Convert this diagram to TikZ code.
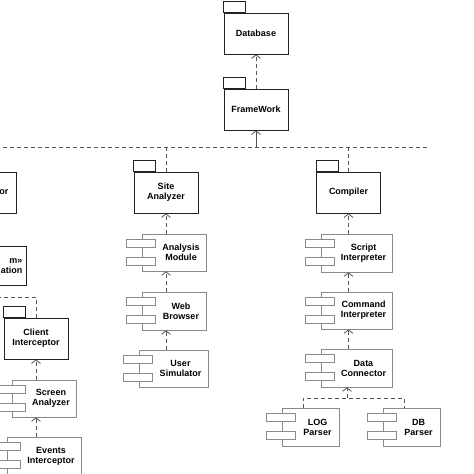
\documentclass[tikz,border=0pt]{standalone}
\usepackage{fontspec}
\setmainfont{Liberation Sans}
\usetikzlibrary{arrows.meta}
\definecolor{pkgcol}{HTML}{222222}
\definecolor{compcol}{HTML}{8A8A8A}
\definecolor{linecol}{HTML}{555555}
\newcommand{\pkgtab}[1]{\draw[pkgline] (#1.north west) rectangle ++(22,-11);}
\newcommand{\compdeco}[1]{%
  \draw[smallbox] ([xshift=-15pt,yshift=-6pt]#1.north west) rectangle ++(29,8);
  \draw[smallbox] ([xshift=-15pt,yshift=-24pt]#1.north west) rectangle ++(29,8);}
\begin{document}
\begin{tikzpicture}[x=1pt,y=-1pt,
  lbl/.style={font=\fontsize{9}{10}\selectfont\bfseries, align=center, inner sep=0pt, text=black},
  pkg/.style={lbl, draw=pkgcol, line width=0.9pt, fill=white, minimum width=64pt, minimum height=41pt},
  pkgline/.style={draw=pkgcol, line width=0.9pt, fill=white},
  comp/.style={draw=compcol, line width=0.7pt, fill=white, inner sep=0pt},
  smallbox/.style={draw=compcol, line width=0.7pt, fill=white},
  dashline/.style={draw=linecol, line width=0.8pt, dash pattern=on 4pt off 3pt},
  dep/.style={dashline, -{Straight Barb[length=3.5pt,width=9pt]}},
  solidarr/.style={draw=linecol, line width=0.8pt, -{Straight Barb[length=3.5pt,width=9pt]}}
]
\useasboundingbox (0,0) rectangle (474,474);
\clip (0,0) rectangle (474,474);
\fill[white] (0,0) rectangle (474,474);

% packages
\node[pkg] (db) at (256,33.5) {Database};
\pkgtab{db}
\node[pkg] (fw) at (256,109.5) {FrameWork};
\pkgtab{fw}
\node[pkg] (sa) at (166,192.5) {Site\\Analyzer};
\pkgtab{sa}
\node[pkg] (cp) at (348.5,192.5) {Compiler};
\pkgtab{cp}
\node[pkg] (ci) at (36,338.5) {Client\\Interceptor};
\pkgtab{ci}
\node[pkg] (lp0) at (-16,192.5) {};
\node[lbl, anchor=east] (lp0t) at (8.5,192.5) {or};
\node[pkgline, minimum width=66pt, minimum height=39pt, inner sep=0pt] (pr) at (-7,265.5) {};
\node[lbl, anchor=east, align=right] (prt) at (22.5,266.5) {m»\\ation};

% components: site analyzer column
\node[comp, minimum width=64pt, minimum height=37pt] (am) at (174,252.5) {};
\compdeco{am}
\node[lbl] (amt) at ([xshift=7pt]am.center) {Analysis\\Module};
\node[comp, minimum width=64pt, minimum height=38pt] (wb) at (174,311) {};
\compdeco{wb}
\node[lbl] (wbt) at ([xshift=7pt]wb.center) {Web\\Browser};
\node[comp, minimum width=69pt, minimum height=37pt] (us) at (173.5,368.5) {};
\compdeco{us}
\node[lbl] (ust) at ([xshift=7pt]us.center) {User\\Simulator};

% components: compiler column
\node[comp, minimum width=71pt, minimum height=38pt] (si) at (356.5,253) {};
\compdeco{si}
\node[lbl] (sit) at ([xshift=7pt]si.center) {Script\\Interpreter};
\node[comp, minimum width=71pt, minimum height=37pt] (cm) at (356.5,310.5) {};
\compdeco{cm}
\node[lbl] (cmt) at ([xshift=7pt]cm.center) {Command\\Interpreter};
\node[comp, minimum width=71pt, minimum height=38pt] (dc) at (356.5,368) {};
\compdeco{dc}
\node[lbl] (dct) at ([xshift=7pt]dc.center) {Data\\Connector};
\node[comp, minimum width=57pt, minimum height=38pt] (lg) at (310.5,427) {};
\compdeco{lg}
\node[lbl] (lgt) at ([xshift=7pt]lg.center) {LOG\\Parser};
\node[comp, minimum width=57pt, minimum height=38pt] (dp) at (411.5,427) {};
\compdeco{dp}
\node[lbl] (dpt) at ([xshift=7pt]dp.center) {DB\\Parser};

% components: client interceptor column
\node[comp, minimum width=64pt, minimum height=37pt] (sc) at (44,398.5) {};
\compdeco{sc}
\node[lbl] (sct) at ([xshift=7pt]sc.center) {Screen\\Analyzer};
\node[comp, minimum width=74pt, minimum height=43pt] (ei) at (44,458.5) {};
\compdeco{ei}
\node[lbl] (eit) at (51,456) {Events\\Interceptor};

% connectors
\coordinate (busL) at (-60,147);
\coordinate (busR) at (430,147);
\coordinate (busF) at (256,147);
\coordinate (cl) at (-10,297);
\coordinate (jl) at (303,398);
\coordinate (jr) at (404,398);
\coordinate (jm) at (347,398);

\draw[dep] (fw.north) -- (db.south);
\draw[dashline] (busL) -- (busR);
\draw[solidarr] (busF) -- (fw.south);
\draw[dashline] (sa.north |- busL) -- (sa.north);
\draw[dashline] (cp.north |- busL) -- (cp.north);

\draw[dep] (am.north -| sa) -- (sa.south);
\draw[dep] (wb.north -| sa) -- (am.south -| sa);
\draw[dep] (us.north -| sa) -- (wb.south -| sa);

\draw[dep] (si.north -| cp) -- (cp.south);
\draw[dep] (cm.north -| cp) -- (si.south -| cp);
\draw[dep] (dc.north -| cp) -- (cm.south -| cp);

\draw[dashline] (lg.north -| jl) -- (jl) -- (jr) -- (dp.north -| jr);
\draw[dep] (jm) -- (dc.south -| jm);

\draw[dashline] (cl) -- (cl -| ci) -- (ci.north);
\draw[dep] (sc.north -| ci) -- (ci.south);
\draw[dep] (ei.north -| ci) -- (sc.south -| ci);
\end{tikzpicture}
\end{document}
